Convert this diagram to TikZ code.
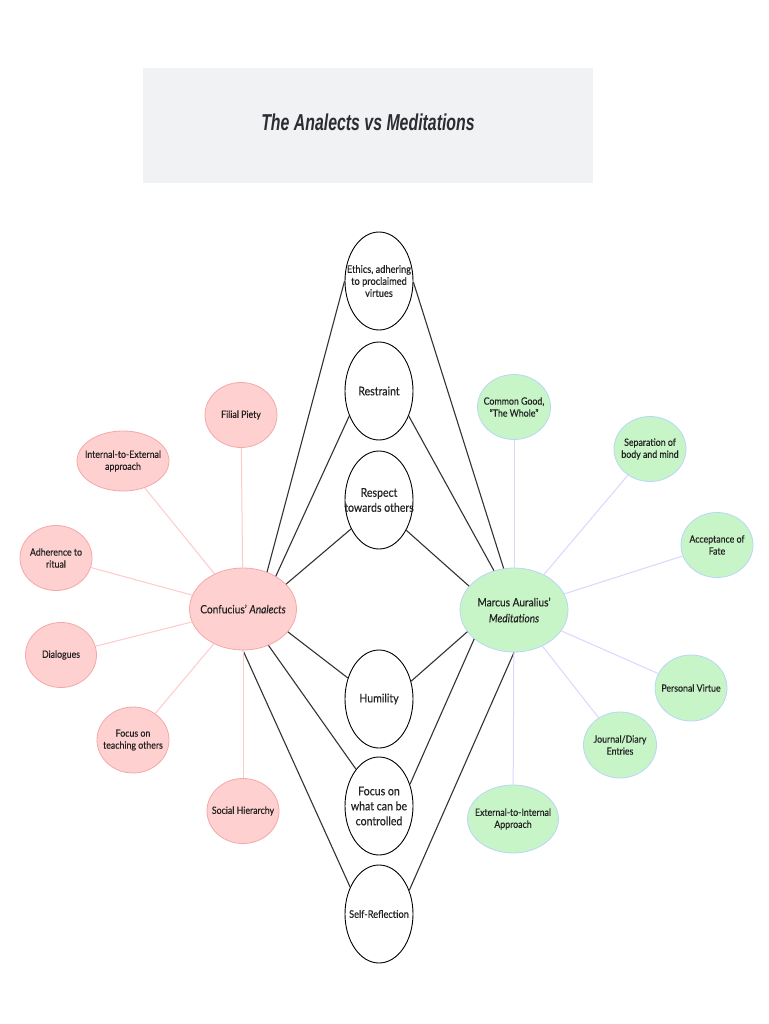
\documentclass[tikz,border=0pt]{standalone}
\usepackage{fontspec}
\setmainfont{Lato}[FakeStretch=0.88,FakeBold=0.3]
\newfontfamily\titlefont{Liberation Sans}[FakeStretch=0.69]
\usetikzlibrary{shapes.geometric}
\definecolor{titlebg}{HTML}{F1F2F4}
\definecolor{titletext}{HTML}{2B2D33}
\definecolor{pinkfill}{HTML}{FFD0D0}
\definecolor{pinkborder}{HTML}{F5A8A8}
\definecolor{pinkline}{HTML}{FFCACA}
\definecolor{greenfill}{HTML}{C8F5C8}
\definecolor{greenborder}{HTML}{B8D6F6}
\definecolor{greenline}{HTML}{D8D8FF}
\definecolor{textc}{HTML}{222222}
\definecolor{darkline}{HTML}{333333}
\begin{document}
\begin{tikzpicture}[x=1pt,y=-1pt,
  midnode/.style={ellipse, draw=black, line width=0.9pt, fill=white, minimum width=68pt, minimum height=98pt, inner sep=0pt},
  pinknode/.style={ellipse, draw=pinkborder, line width=0.8pt, fill=pinkfill, inner sep=0pt},
  greennode/.style={ellipse, draw=greenborder, line width=0.8pt, fill=greenfill, inner sep=0pt},
  lbl/.style={align=center, text=textc, inner sep=0pt, font=\fontsize{10}{12}\selectfont},
  lblmid/.style={align=center, text=textc, inner sep=0pt, font=\fontsize{10.5}{12}\selectfont},
  lblbig/.style={align=center, text=textc, inner sep=0pt, font=\fontsize{12}{15}\selectfont},
  lblmain/.style={align=center, text=textc, inner sep=0pt, font=\fontsize{11.5}{16}\selectfont},
  blackcon/.style={draw=darkline, line width=1.1pt},
  pinkcon/.style={draw=pinkline, line width=1pt},
  greencon/.style={draw=greenline, line width=1pt}
]
\useasboundingbox (0,0) rectangle (768,1024);
\fill[white] (0,0) rectangle (768,1024);

% title
\node[fill=titlebg, minimum width=450pt, minimum height=115pt, inner sep=0pt] (title) at (368,125.5) {};
\node[text=titletext, font=\titlefont\fontsize{23}{26}\selectfont\bfseries\itshape] (titletxt) at (368,122) {The Analects vs Meditations};

% middle column
\node[midnode, label={[lblmid]center:{Ethics, adhering\\to proclaimed\\virtues}}] (ethics) at (379,281) {};
\node[midnode, label={[lblbig]center:{Restraint}}] (restraint) at (379,391) {};
\node[midnode, label={[lblbig]center:{Respect\\towards others}}] (respect) at (379,500) {};
\node[midnode, label={[lblbig]center:{Humility}}] (humility) at (379,699) {};
\node[midnode, label={[lblbig]center:{Focus on\\what can be\\controlled}}] (focus) at (379,806) {};
\node[midnode, label={[lblmid]center:{Self-Reflection}}] (selfref) at (379,914) {};

% main nodes
\node[pinknode, minimum width=107pt, minimum height=82pt, label={[lblmain]center:{Confucius' \textit{Analects}}}] (conf) at (243,609) {};
\node[greennode, minimum width=108pt, minimum height=84pt, label={[lblmain]center:{Marcus Auralius'\\\textit{Meditations}}}] (marcus) at (514,610) {};

% pink nodes
\node[pinknode, minimum width=72pt, minimum height=65pt, label={[lbl]center:{Filial Piety}}] (filial) at (241,415) {};
\node[pinknode, minimum width=92pt, minimum height=60pt, label={[lbl]center:{Internal-to-External\\approach}}] (internal) at (123,461) {};
\node[pinknode, minimum width=72pt, minimum height=65pt, label={[lbl]center:{Adherence to\\ritual}}] (adher) at (56,558) {};
\node[pinknode, minimum width=71pt, minimum height=65pt, label={[lbl]center:{Dialogues}}] (dialog) at (61,655) {};
\node[pinknode, minimum width=72pt, minimum height=66pt, label={[lbl]center:{Focus on\\teaching others}}] (teach) at (133,740) {};
\node[pinknode, minimum width=72pt, minimum height=65pt, label={[lbl]center:{Social Hierarchy}}] (social) at (243,811) {};

% green nodes
\node[greennode, minimum width=73pt, minimum height=65pt, label={[lbl]center:{Common Good,\\``The Whole''}}] (common) at (514,407) {};
\node[greennode, minimum width=72pt, minimum height=65pt, label={[lbl]center:{Separation of\\body and mind}}] (separ) at (650,449) {};
\node[greennode, minimum width=72pt, minimum height=65pt, label={[lbl]center:{Acceptance of\\Fate}}] (accept) at (717,545) {};
\node[greennode, minimum width=72pt, minimum height=66pt, label={[lbl]center:{Personal Virtue}}] (personal) at (691,688) {};
\node[greennode, minimum width=73pt, minimum height=66pt, label={[lbl]center:{Journal/Diary\\Entries}}] (journal) at (620,745) {};
\node[greennode, minimum width=91pt, minimum height=68pt, label={[lbl]center:{External-to-Internal\\Approach}}] (external) at (513,819) {};

% black connectors (Confucius side)
\draw[blackcon] (conf.57) -- (ethics.180);
\draw[blackcon] (conf.45) -- (restraint.220);
\draw[blackcon] (conf.30) -- (respect.226);
\draw[blackcon] (conf.333) -- (humility.146);
\draw[blackcon] (conf.305) -- (focus.122);
\draw[blackcon] (conf.270) -- (selfref.137);
% black connectors (Meditations side)
\draw[blackcon] (marcus.104) -- (ethics.358);
\draw[blackcon] (marcus.117) -- (restraint.320);
\draw[blackcon] (marcus.152) -- (respect.312);
\draw[blackcon] (marcus.205) -- (humility.29);
\draw[blackcon] (marcus.216) -- (focus.35);
\draw[blackcon] (marcus.270) -- (selfref.38);
% pink connectors
\foreach \p in {filial,internal,adher,dialog,teach,social}{
  \draw[pinkcon] (conf) -- (\p);
}
% green connectors
\foreach \g in {common,separ,accept,personal,journal,external}{
  \draw[greencon] (marcus) -- (\g);
}
\end{tikzpicture}
\end{document}
